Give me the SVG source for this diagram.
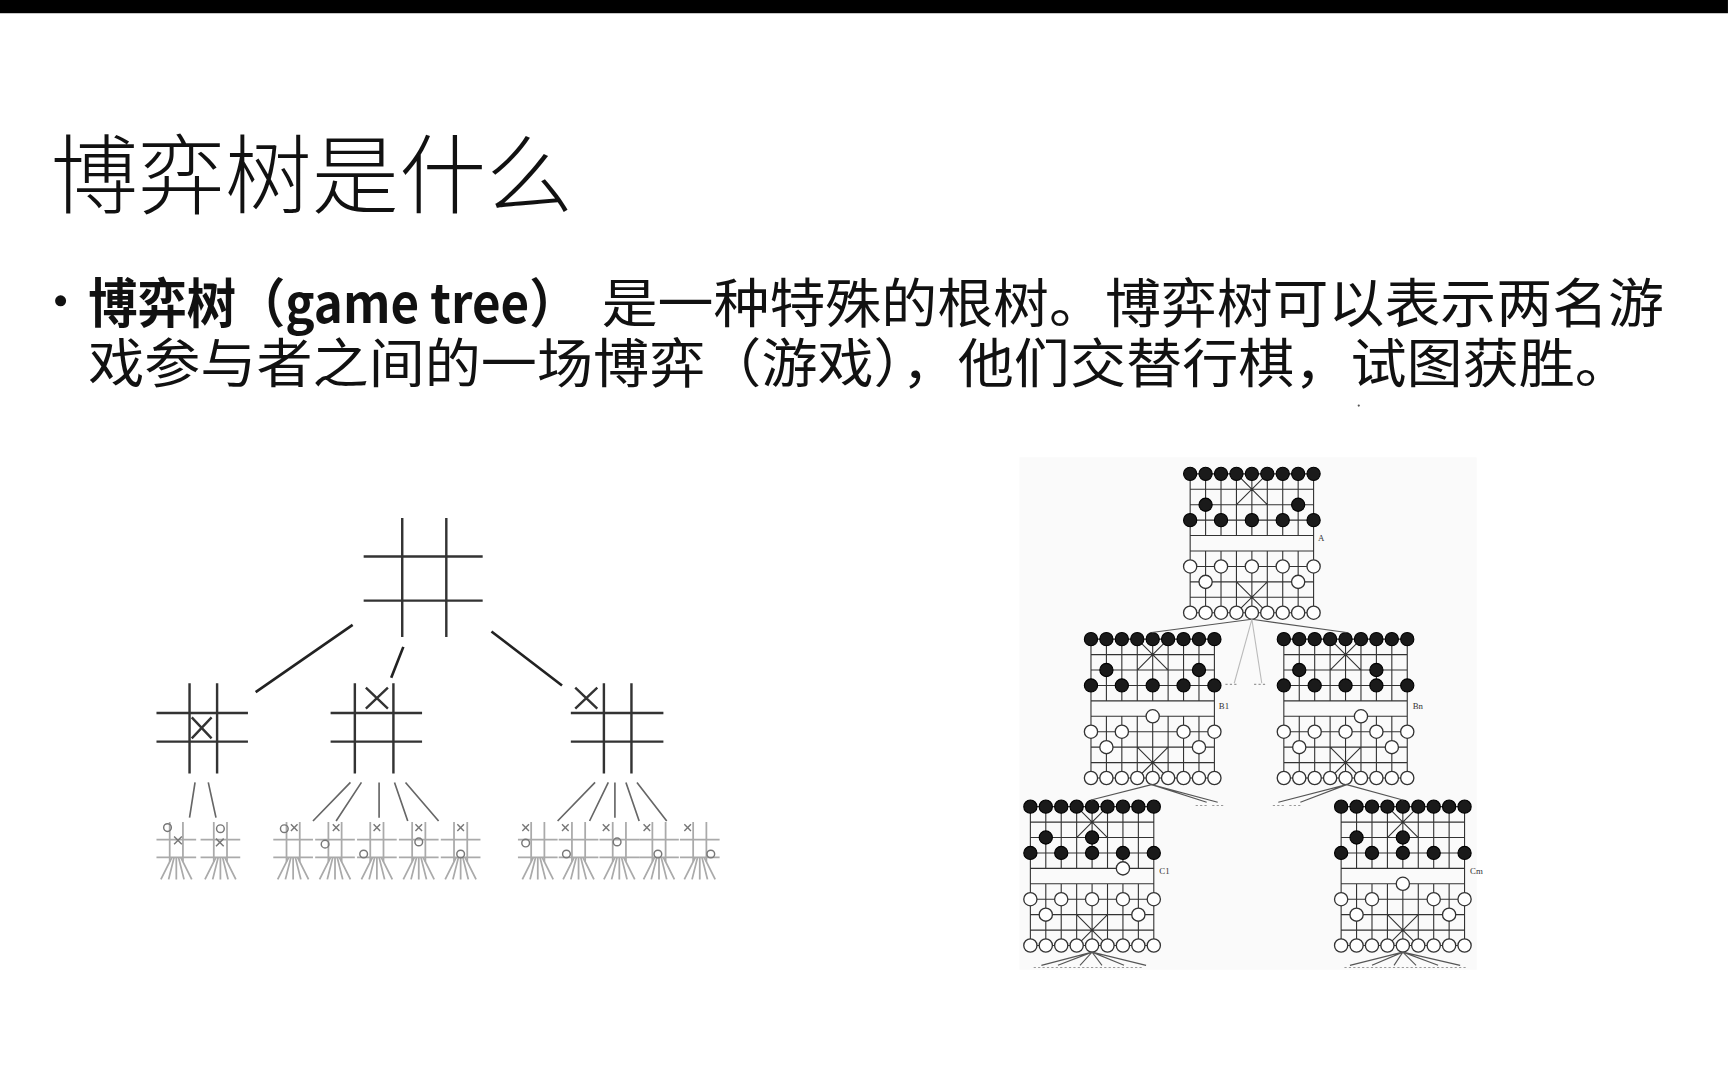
<svg xmlns="http://www.w3.org/2000/svg" xmlns:xlink="http://www.w3.org/1999/xlink" width="1728" height="1080" viewBox="0 0 1728 1080">
<style>
.t{font-family:"Noto Sans CJK SC","Noto Sans",sans-serif;fill:#111}
.g{stroke:#333;stroke-width:2.2;fill:none}
.gl{stroke:#aaa;stroke-width:1.6;fill:none}
.e{stroke:#222;stroke-width:2.4}
.el{stroke:#666;stroke-width:1.5}
.bl{stroke:#333;stroke-width:1;fill:none}
.bp{fill:#1a1a1a;stroke:#000;stroke-width:1}
.wp{fill:#fff;stroke:#333;stroke-width:1.2}
.cl{stroke:#555;stroke-width:1}
.lb{font-family:"Liberation Serif",serif;font-size:8px;fill:#333}
</style>
<defs>
<g id="leafFan" class="gl"><path d="M-14,46 L-4,26 M-7,46 L-2,26 M0,46 L0,26 M7,46 L2,26 M14,46 L4,26"/></g>
<g id="leaf" class="gl"><path d="M-18,10 H18 M-18,26 H18 M-6,-6 V30 M6,-6 V30"/><use xlink:href="#leafFan"/></g>
<g id="board">
<path class="bl" d="M0,0 H112 M0,14 H112 M0,28 H112 M0,42 H112 M0,56 H112 M0,70 H112 M0,84 H112 M0,98 H112 M0,112 H112 M0,126 H112 M0,0 V126 M112,0 V126 M14,0 V56 M28,0 V56 M42,0 V56 M56,0 V56 M70,0 V56 M84,0 V56 M98,0 V56 M14,70 V126 M28,70 V126 M42,70 V126 M56,70 V126 M70,70 V126 M84,70 V126 M98,70 V126 M42,0 L70,28 M70,0 L42,28 M42,98 L70,126 M70,98 L42,126"/>
<g class="bp"><circle cx="0" cy="0" r="6"/><circle cx="14" cy="0" r="6"/><circle cx="28" cy="0" r="6"/><circle cx="42" cy="0" r="6"/><circle cx="56" cy="0" r="6"/><circle cx="70" cy="0" r="6"/><circle cx="84" cy="0" r="6"/><circle cx="98" cy="0" r="6"/><circle cx="112" cy="0" r="6"/>
<circle cx="0" cy="42" r="6"/><circle cx="28" cy="42" r="6"/><circle cx="56" cy="42" r="6"/><circle cx="84" cy="42" r="6"/><circle cx="112" cy="42" r="6"/></g>
<g class="wp"><circle cx="0" cy="84" r="6"/><circle cx="28" cy="84" r="6"/><circle cx="84" cy="84" r="6"/><circle cx="112" cy="84" r="6"/>
<circle cx="14" cy="98" r="6"/><circle cx="98" cy="98" r="6"/>
<circle cx="0" cy="126" r="6"/><circle cx="14" cy="126" r="6"/><circle cx="28" cy="126" r="6"/><circle cx="42" cy="126" r="6"/><circle cx="56" cy="126" r="6"/><circle cx="70" cy="126" r="6"/><circle cx="84" cy="126" r="6"/><circle cx="98" cy="126" r="6"/><circle cx="112" cy="126" r="6"/></g>
</g>
</defs>
<rect width="1728" height="1080" fill="#fff"/>
<g transform="scale(1.102)">
<rect x="0" y="0" width="1568" height="12" fill="#000"/>
<g id="title"><text class="t" x="46" y="188" font-size="78" font-weight="300" textLength="474" lengthAdjust="spacingAndGlyphs">博弈树是什么</text></g>
<g id="bullet">
<circle cx="55" cy="273" r="5" fill="#111"/>
<text class="t" x="80" y="293" font-size="48" font-weight="bold" textLength="445" lengthAdjust="spacingAndGlyphs">博弈树（game tree）</text>
<text class="t" x="546" y="293" font-size="48" textLength="964" lengthAdjust="spacingAndGlyphs">是一种特殊的根树。博弈树可以表示两名游</text>
<text class="t" x="80" y="348" font-size="48" textLength="1400" lengthAdjust="spacingAndGlyphs">戏参与者之间的一场博弈（游戏），他们交替行棋，试图获胜。</text>
<circle cx="1233" cy="368" r="1" fill="#555"/>
</g>
<g id="ttt-root" class="g"><path d="M365,470 V578 M405,470 V578 M330,505 H438 M330,545 H438"/></g>
<g id="ttt-c1" class="g"><path d="M172,620 V702 M197,620 V702 M142,647 H225 M142,673 H225 M174,651 L192,670 M192,651 L174,670" /></g>
<g id="ttt-c2" class="g"><path d="M322,620 V702 M357,620 V702 M300,647 H383 M300,673 H383 M332,624 L352,643 M352,624 L332,643"/></g>
<g id="ttt-c3" class="g"><path d="M548,620 V702 M573,620 V702 M518,647 H602 M518,673 H602 M522,624 L542,643 M542,624 L522,643"/></g>
<g id="ttt-leaves">
<use xlink:href="#leaf" x="160" y="752"/><use xlink:href="#leaf" x="200" y="752"/>
<use xlink:href="#leaf" x="266" y="752"/><use xlink:href="#leaf" x="304" y="752"/><use xlink:href="#leaf" x="342" y="752"/><use xlink:href="#leaf" x="380" y="752"/><use xlink:href="#leaf" x="418" y="752"/>
<use xlink:href="#leaf" x="488" y="752"/><use xlink:href="#leaf" x="525" y="752"/><use xlink:href="#leaf" x="562" y="752"/><use xlink:href="#leaf" x="598" y="752"/><use xlink:href="#leaf" x="635" y="752"/>
<g fill="none" stroke="#777" stroke-width="1.3">
<circle cx="152" cy="751" r="3.5"/><path d="M158,759 l7,7 M165,759 l-7,7"/><circle cx="200" cy="752" r="3.5"/><path d="M196,761 l7,7 M203,761 l-7,7"/>
<circle cx="258" cy="752" r="3.5"/><path d="M264,748 l6,6 M270,748 l-6,6"/>
<path d="M302,748 l6,6 M308,748 l-6,6"/><circle cx="295" cy="766" r="3.5"/>
<path d="M339,748 l6,6 M345,748 l-6,6"/><circle cx="330" cy="775" r="3.5"/>
<path d="M377,748 l6,6 M383,748 l-6,6"/><circle cx="380" cy="764" r="3.5"/>
<path d="M415,748 l6,6 M421,748 l-6,6"/><circle cx="418" cy="775" r="3.5"/>
<path d="M474,748 l6,6 M480,748 l-6,6"/><circle cx="477" cy="765" r="3.5"/>
<path d="M510,748 l6,6 M516,748 l-6,6"/><circle cx="514" cy="775" r="3.5"/>
<path d="M547,748 l6,6 M553,748 l-6,6"/><circle cx="560" cy="764" r="3.5"/>
<path d="M584,748 l6,6 M590,748 l-6,6"/><circle cx="597" cy="775" r="3.5"/>
<path d="M621,748 l6,6 M627,748 l-6,6"/><circle cx="645" cy="775" r="3.5"/>
</g>
</g>
<g id="ttt-edges">
<path class="e" d="M320,567 L232,628 M366,587 L355,615 M446,573 L510,622"/>
<path class="el" d="M177,710 L172,742 M189,710 L196,742 M318,710 L284,745 M328,710 L305,745 M344,710 L344,742 M358,710 L370,745 M368,710 L398,745 M540,710 L506,745 M552,710 L535,745 M558,710 L558,742 M568,710 L580,745 M578,710 L605,745"/>
</g>
<rect x="925" y="415" width="415" height="465" fill="#fafafa"/>
<g id="chess-A"><use xlink:href="#board" x="1080" y="430"/><circle class="wp" cx="1136" cy="514" r="6"/><circle class="bp" cx="1094" cy="458" r="6"/><circle class="bp" cx="1178" cy="458" r="6"/><text class="lb" x="1196" y="491">A</text></g>
<g id="chess-B1"><use xlink:href="#board" x="990" y="580"/><circle class="wp" cx="1046" cy="650" r="6"/><circle class="bp" cx="1004" cy="608" r="6"/><circle class="bp" cx="1088" cy="608" r="6"/><text class="lb" x="1106" y="643">B1</text></g>
<g id="chess-Bn"><use xlink:href="#board" x="1165" y="580"/><circle class="wp" cx="1235" cy="650" r="6"/><circle class="wp" cx="1221" cy="664" r="6"/><circle class="bp" cx="1179" cy="608" r="6"/><circle class="bp" cx="1249" cy="608" r="6"/><text class="lb" x="1282" y="643">Bn</text></g>
<g id="chess-C1"><use xlink:href="#board" x="935" y="732"/><circle class="wp" cx="1019" cy="788" r="6"/><circle class="wp" cx="991" cy="816" r="6"/><circle class="bp" cx="949" cy="760" r="6"/><circle class="bp" cx="991" cy="760" r="6"/><text class="lb" x="1052" y="793">C1</text></g>
<g id="chess-Cm"><use xlink:href="#board" x="1217" y="732"/><circle class="wp" cx="1273" cy="802" r="6"/><circle class="bp" cx="1231" cy="760" r="6"/><circle class="bp" cx="1273" cy="760" r="6"/><text class="lb" x="1334" y="793">Cm</text></g>
<g id="chess-edges">
<path class="cl" d="M1136,562 L1045,574 M1136,562 L1222,574 M1045,712 L990,726 M1045,712 L1095,728 M1045,712 L1105,728 M1222,712 L1273,726 M1222,712 L1160,728 M1222,712 L1180,728 M991,864 L945,876 M991,864 L960,876 M991,864 L980,876 M991,864 L1000,876 M991,864 L1020,876 M991,864 L1040,876 M1273,864 L1225,876 M1273,864 L1245,876 M1273,864 L1265,876 M1273,864 L1285,876 M1273,864 L1305,876 M1273,864 L1325,876"/>
<path stroke="#bbb" stroke-width="1" d="M1136,562 L1120,620 M1136,562 L1145,620"/>
<path stroke="#999" stroke-width="1" stroke-dasharray="2 2" d="M1112,621 h12 M1138,621 h12 M1085,731 h12 M1100,731 h12 M1155,731 h12 M1170,731 h12 M938,878 h100 M1220,878 h110"/>
</g>
</g>
</svg>
